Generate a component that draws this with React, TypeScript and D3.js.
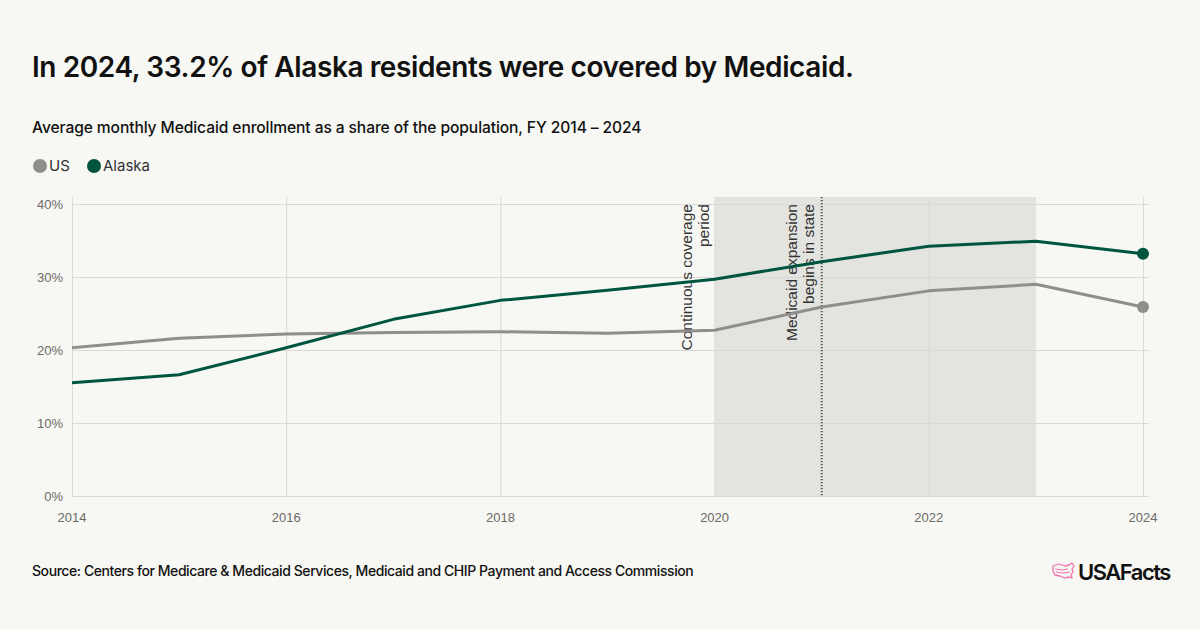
import { useEffect, useRef } from 'react';
import * as d3 from 'd3';

// Average monthly Medicaid enrollment as a share of population (%)
const years = [2014, 2015, 2016, 2017, 2018, 2019, 2020, 2021, 2022, 2023, 2024];
const usValues = [20.3, 21.6, 22.2, 22.4, 22.5, 22.3, 22.7, 25.9, 28.1, 29.0, 25.9];
const alaskaValues = [15.5, 16.6, 20.3, 24.2, 26.8, 28.2, 29.7, 32.1, 34.2, 34.9, 33.2];
const xTicks = [2014, 2016, 2018, 2020, 2022, 2024];
const yTicks = [0, 10, 20, 30, 40];
const coverageYears = [2020, 2023];
const expansionYear = 2021;

const W = 1200;
const H = 630;
const BG = '#f7f7f3';
const GREEN = '#00553f';
const GRAY = '#8e8e8a';

export default function App() {
  const svgRef = useRef<SVGSVGElement>(null);

  useEffect(() => {
    if (!svgRef.current) return;
    const svg = d3.select(svgRef.current);
    svg.selectAll('*').remove();

    const x = d3.scaleLinear().domain([2014, 2024]).range([72, 1143]);
    const y = d3.scaleLinear().domain([0, 40]).range([496, 204]);
    const plotTop = 197;
    const plotRight = 1149;

    svg.append('rect').attr('width', W).attr('height', H).attr('fill', BG);

    // Continuous coverage period shading
    svg.append('rect')
      .attr('x', x(coverageYears[0]))
      .attr('y', plotTop)
      .attr('width', x(coverageYears[1]) - x(coverageYears[0]))
      .attr('height', y(0) - plotTop)
      .attr('fill', '#e3e3df');

    // Grid
    const grid = svg.append('g').attr('stroke', '#d9d9d5').attr('stroke-width', 1);
    grid.selectAll('line.h')
      .data(yTicks)
      .join('line')
      .attr('x1', x(2014)).attr('x2', plotRight)
      .attr('y1', (d) => y(d) + 0.5).attr('y2', (d) => y(d) + 0.5);
    grid.selectAll('line.v')
      .data(xTicks)
      .join('line')
      .attr('class', 'v')
      .attr('x1', (d) => x(d) + 0.5).attr('x2', (d) => x(d) + 0.5)
      .attr('y1', plotTop).attr('y2', y(0));

    // Axis labels
    const tickFont = '"Liberation Sans", Arial, sans-serif';
    svg.append('g')
      .selectAll('text')
      .data(yTicks)
      .join('text')
      .attr('x', 63)
      .attr('y', (d) => y(d) + 5)
      .attr('text-anchor', 'end')
      .attr('fill', '#6b6b68')
      .style('font', `13px ${tickFont}`)
      .text((d) => `${d}%`);
    svg.append('g')
      .selectAll('text')
      .data(xTicks)
      .join('text')
      .attr('x', (d) => x(d))
      .attr('y', 522)
      .attr('text-anchor', 'middle')
      .attr('fill', '#6b6b68')
      .style('font', `13px ${tickFont}`)
      .text((d) => d);

    // Medicaid expansion marker
    svg.append('line')
      .attr('x1', x(expansionYear)).attr('x2', x(expansionYear))
      .attr('y1', plotTop).attr('y2', y(0))
      .attr('stroke', '#555')
      .attr('stroke-width', 2)
      .attr('stroke-dasharray', '1.2,1.8');

    // Rotated annotations
    const notes = [
      { xPos: 692, lines: ['Continuous coverage', 'period'] },
      { xPos: 797, lines: ['Medicaid expansion', 'begins in state'] },
    ];
    notes.forEach((n) => {
      n.lines.forEach((line, i) => {
        svg.append('text')
          .attr('transform', `translate(${n.xPos + i * 17},204) rotate(-90)`)
          .attr('text-anchor', 'end')
          .attr('fill', '#333')
          .style('font', `15.5px ${tickFont}`)
          .text(line);
      });
    });

    // Lines
    const line = d3.line<number>()
      .x((_, i) => x(years[i]))
      .y((d) => y(d));
    const series = [
      { values: usValues, color: GRAY },
      { values: alaskaValues, color: GREEN },
    ];
    series.forEach((s) => {
      svg.append('path')
        .datum(s.values)
        .attr('d', line)
        .attr('fill', 'none')
        .attr('stroke', s.color)
        .attr('stroke-width', 3)
        .attr('stroke-linejoin', 'round');
      svg.append('circle')
        .attr('cx', x(years[years.length - 1]))
        .attr('cy', y(s.values[s.values.length - 1]))
        .attr('r', 6)
        .attr('fill', s.color);
    });

    // Titles
    const headFont = 'Inter, "Noto Sans", sans-serif';
    svg.append('text')
      .attr('x', 32).attr('y', 77)
      .attr('fill', '#111')
      .style('font', `600 28px ${headFont}`)
      .style('letter-spacing', '-0.4px')
      .text('In 2024, 33.2% of Alaska residents were covered by Medicaid.');
    svg.append('text')
      .attr('x', 32).attr('y', 133)
      .attr('fill', '#111')
      .style('font', `500 15.6px ${headFont}`)
      .style('letter-spacing', '-0.1px')
      .text('Average monthly Medicaid enrollment as a share of the population, FY 2014 – 2024');

    // Legend
    const legend = [
      { label: 'US', color: GRAY, cx: 40 },
      { label: 'Alaska', color: GREEN, cx: 94 },
    ];
    legend.forEach((l) => {
      svg.append('circle').attr('cx', l.cx).attr('cy', 166).attr('r', 7).attr('fill', l.color);
      svg.append('text')
        .attr('x', l.cx + 9).attr('y', 171)
        .attr('fill', '#333')
        .style('font', `400 15px ${headFont}`)
        .text(l.label);
    });

    // Source
    svg.append('text')
      .attr('x', 32).attr('y', 576)
      .attr('fill', '#111')
      .style('font', `500 14px ${headFont}`)
      .style('letter-spacing', '-0.43px')
      .text('Source: Centers for Medicare & Medicaid Services, Medicaid and CHIP Payment and Access Commission');

    // Logo
    const logo = svg.append('g').attr('transform', 'translate(1052,563)');
    logo.append('path')
      .attr('d', 'M1,3 L7,1 L13,3 L17,2 L20,0 L22,3 L20,6 L21,9 L19,12 L20,15 L17,14 L13,15 L8,13 L3,12 L1,8 Z')
      .attr('fill', 'none')
      .attr('stroke', '#f06fb0')
      .attr('stroke-width', 1.3)
      .attr('stroke-linejoin', 'round');
    logo.append('path')
      .attr('d', 'M3,6 L10,7 L16,6 M4,9 L11,10 L18,9')
      .attr('fill', 'none')
      .attr('stroke', '#f06fb0')
      .attr('stroke-width', 1);
    svg.append('text')
      .attr('x', 1078).attr('y', 580)
      .attr('fill', '#111')
      .style('font', `600 22px ${headFont}`)
      .style('letter-spacing', '-1.5px')
      .text('USAFacts');
  }, []);

  return (
    <svg
      ref={svgRef}
      width={W}
      height={H}
      style={{ display: 'block', position: 'absolute', left: 0, top: 0 }}
    />
  );
}
